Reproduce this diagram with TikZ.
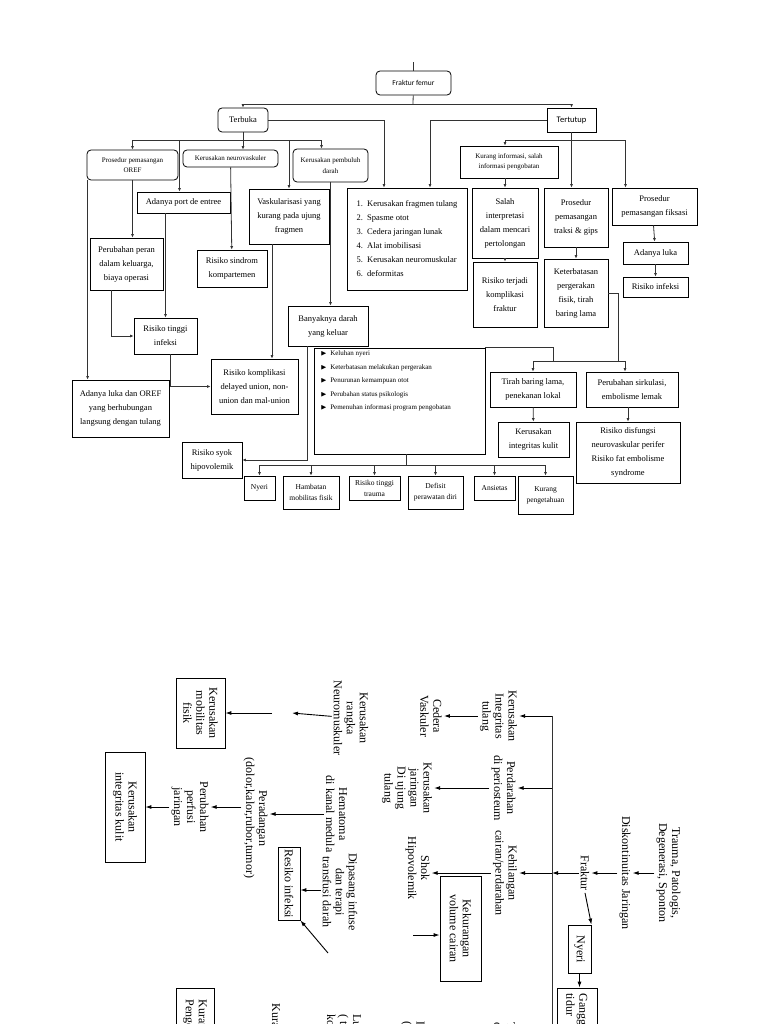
\documentclass[tikz,border=0pt]{standalone}
\usepackage{amssymb}
\usepackage{fontspec}
\setmainfont{Liberation Serif}
\newfontfamily\calibri{Carlito}
\usetikzlibrary{arrows.meta,positioning,calc}

\tikzset{
  box/.style={draw,line width=0.8pt,align=center,inner sep=1pt,font=\fontsize{8.5}{14}\selectfont},
  rbox/.style={box,rounded corners=4pt},
  sm/.style={font=\fontsize{7}{10.5}\selectfont},
  row/.style={font=\fontsize{7.5}{11}\selectfont},
  rtext/.style={rotate=-90,align=center,inner sep=2pt,font=\fontsize{12}{13}\selectfont},
  rbox2/.style={rtext,draw,line width=0.8pt},
  link/.style={line width=0.8pt,black!80},
  blink/.style={line width=0.9pt,->,>={Latex[length=6pt,width=4pt]}}
}

\begin{document}
\begin{tikzpicture}[x=1pt,y=-1pt,>={Latex[length=3.5pt,width=3pt]}]
\clip (0,0) rectangle (768,1024);
\fill[white] (0,0) rectangle (768,1024);

% upper chart
\node[rbox,font=\calibri\fontsize{7.5}{9}\selectfont,minimum width=75,minimum height=24] (fem) at (413.5,83) {Fraktur femur};
\node[rbox,minimum width=50,minimum height=24] (terb) at (243,120) {Terbuka};
\node[box,font=\calibri\fontsize{8.5}{10}\selectfont,minimum width=49,minimum height=24] (tert) at (571.5,120) {Tertutup};

\node[rbox,sm,minimum width=91,minimum height=30] (oref) at (132.5,165) {Prosedur pemasangan\\OREF};
\node[rbox,sm,minimum width=95,minimum height=17] (neuro) at (230.5,158.5) {Kerusakan neurovaskuler};
\node[rbox,sm,minimum width=75,minimum height=33] (pemb) at (330.5,165.5) {Kerusakan pembuluh\\darah};
\node[box,minimum width=93,minimum height=21] (port) at (183.5,202.5) {Adanya port de entree};
\node[box,minimum width=80,minimum height=55] (vask) at (289,216.5) {Vaskularisasi yang\\kurang pada ujung\\fragmen};
\node[box,align=left,minimum width=120,minimum height=102] (list) at (407,239)
  {\begin{tabular}{@{}l@{\ \ }l@{}}
   1. & Kerusakan fragmen tulang\\ 2. & Spasme otot\\ 3. & Cedera jaringan lunak\\
   4. & Alat imobilisasi\\ 5. & Kerusakan neuromuskular\\ 6. & deformitas
   \end{tabular}};
\node[box,minimum width=73,minimum height=52] (peran) at (126.5,264) {Perubahan peran\\dalam keluarga,\\biaya operasi};
\node[box,minimum width=70,minimum height=37] (komp) at (232,268.5) {Risiko sindrom\\kompartemen};
\node[box,minimum width=80,minimum height=40] (darah) at (328,326) {Banyaknya darah\\yang keluar};
\node[box,minimum width=63,minimum height=36] (ting) at (165.5,336) {Risiko tinggi\\infeksi};
\node[box,minimum width=97,minimum height=57] (luka) at (120.5,408.5) {Adanya luka dan OREF\\yang berhubungan\\langsung dengan tulang};
\node[box,minimum width=87,minimum height=55] (delay) at (254.5,386.5) {Risiko komplikasi\\delayed union, non-\\union dan mal-union};
\node[box,inner sep=0pt,minimum width=171,minimum height=106] (bul) at (399.5,401)
  {\parbox[t][100pt][t]{158pt}{\fontsize{7}{13.5}\selectfont
   $\blacktriangleright$\ \ Keluhan nyeri\\
   $\blacktriangleright$\ \ Keterbatasan melakukan pergerakan\\
   $\blacktriangleright$\ \ Penurunan kemampuan otot\\
   $\blacktriangleright$\ \ Perubahan status psikologis\\
   $\blacktriangleright$\ \ Pemenuhan informasi program pengobatan}};
\node[box,minimum width=60,minimum height=36] (syok) at (212,460) {Risiko syok\\hipovolemik};

\node[box,row,minimum width=31,minimum height=24] (nyeri) at (259.5,488) {Nyeri};
\node[box,row,minimum width=56,minimum height=33] (hamb) at (311,492.5) {Hambatan\\mobilitas fisik};
\node[box,row,minimum width=51,minimum height=24] (traum) at (374.5,488) {Risiko tinggi\\trauma};
\node[box,row,minimum width=55,minimum height=33] (def) at (435.5,492.5) {Defisit\\perawatan diri};
\node[box,row,minimum width=41,minimum height=24] (ans) at (494.5,488) {Ansietas};
\node[box,row,minimum width=55,minimum height=38] (kur) at (545.5,495) {Kurang\\pengetahuan};

\node[box,sm,minimum width=98,minimum height=32] (kinfo) at (509,162) {Kurang informasi, salah\\informasi pengobatan};
\node[box,minimum width=66,minimum height=70] (salah) at (505,223) {Salah\\interpretasi\\dalam mencari\\pertolongan};
\node[box,minimum width=64,minimum height=59] (traksi) at (576,217.5) {Prosedur\\pemasangan\\traksi \& gips};
\node[box,minimum width=85,minimum height=37] (fiks) at (654.5,206.5) {Prosedur\\pemasangan fiksasi};
\node[box,minimum width=64,minimum height=65] (rkomp) at (505,294.5) {Risiko terjadi\\komplikasi\\fraktur};
\node[box,minimum width=64,minimum height=68] (keter) at (576,293) {Keterbatasan\\pergerakan\\fisik, tirah\\baring lama};
\node[box,minimum width=65,minimum height=22] (aluka) at (655.5,253) {Adanya luka};
\node[box,minimum width=65,minimum height=20] (rinf) at (655.5,287) {Risiko infeksi};
\node[box,minimum width=86,minimum height=35] (tirah) at (533,389.5) {Tirah baring lama,\\penekanan lokal};
\node[box,minimum width=92,minimum height=35] (sirk) at (632,389.5) {Perubahan sirkulasi,\\embolisme lemak};
\node[box,minimum width=71,minimum height=35] (kulit) at (533.5,439.5) {Kerusakan\\integritas kulit};
\node[box,minimum width=104,minimum height=61] (disf) at (628,452.5) {Risiko disfungsi\\neurovaskular perifer\\Risiko fat embolisme\\syndrome};

\draw[link] (fem.north) -- +(0,-9);
\draw[link] (fem) -- (413,104) coordinate (j1);
\draw[link,->] (j1) -| (terb);
\draw[link,->] (j1) -| (tert);
\draw[link,->] (terb) -| ([xshift=-23]list.north);
\draw[link,->] (tert) -| ([xshift=23]list.north);
\draw[link] (terb) -- (243,140) coordinate (j2);
\draw[link,->] (j2) -| (oref);
\draw[link,->] (j2) -| ([xshift=-4]port.north);
\draw[link,->] (j2) -| (vask);
\draw[link,->] (j2) -| ([xshift=-9]pemb.north);
\draw[link,->] (terb) -- (terb |- neuro.north);
\draw[link,->] ([xshift=1]oref.south west) -- ([xshift=1]oref.south west |- luka.north);
\draw[link,->] (oref) -- (oref |- peran.north);
\draw[link,->] ([xshift=-15]peran.south) |- (ting);
\draw[link,->] (port.south -| ting) -- (ting);
\draw[link,->] (neuro) -- (komp);
\draw[link,->] ([xshift=-17]vask.south) -- ([xshift=-17]vask.south |- delay.north);
\draw[link,->] (pemb) -- (pemb |- darah.north);
\draw[link,->] ([xshift=-21]darah.south) |- (syok);
\draw[link,->] ([xshift=5]ting.south) |- (delay.west);

\draw[link,->] (tert) -- (tert |- traksi.north);
\draw[link] (tert) -- (571.5,140) coordinate (j3);
\draw[link,->] (j3) -| ([xshift=-4]kinfo.north);
\draw[link,->] (j3) -| ([xshift=-29]fiks.north);
\draw[link,->] ([xshift=-4]kinfo.south) -- (salah.north);
\draw[link,->] (salah) -- (rkomp);
\draw[link,->] (traksi) -- (keter);
\draw[link,->] ([xshift=-1]fiks.south) -- (aluka);
\draw[link,->] (aluka) -- (rinf);
\draw[link] (keter.east) -| (618,361) coordinate (j4);
\draw[link] (bul.north east) -| (553,361) coordinate (j5) -- (j4);
\draw[link,->] (j5) -| (tirah);
\draw[link,->] (j4) -| ([xshift=-7]sirk.north);
\draw[link,->] (tirah) -- (kulit);
\draw[link,->] (disf |- sirk.south) -- (disf);
\draw[link] ([xshift=7]bul.south) -- (406.5,465) coordinate (j6);
\foreach \n in {nyeri,hamb,traum,def,ans,kur}
  \draw[link,->] (j6) -| (\n);

% lower chart, turned on its side
\node[rtext] (sebab) at (668.5,873) {Trauma, Patologis,\\Degenerasi, Sponton};
\node[rtext] (disk) at (625,873) {Diskontinuitas Jaringan};
\node[rtext] (frak) at (585,873) {Fraktur};
\coordinate (sp) at (552,716);
\node[rtext] (kit) at (498.5,716) {Kerusakan\\Integritas\\tulang};
\node[rtext] (ced) at (431,716) {Cedera\\Vaskuler};
\node[rtext] (perd) at (503.5,788) {Perdarahan\\di periosteum};
\node[rtext] (kjar) at (407,788) {Kerusakan\\jaringan\\Di ujung\\tulang};
\node[rtext] (keh) at (505,873) {Kehilangan\\cairan/perdarahan};
\node[rtext] (shok) at (417.5,868) {Shok\\Hipovolemik};
\node[rbox2,minimum width=105,minimum height=41] (kvc) at (460.5,928.5) {Kekurangan\\volume cairan};
\node[rbox2,minimum width=48,minimum height=23] (nyeri2) at (579.5,949) {Nyeri};
\node[rbox2,align=left,minimum width=84,minimum height=40] (gang) at (577,1030) {Gangguan pola\\tidur};
\node[rtext,align=left] (tind) at (503.5,1045) {Tindakan\\operasi};
\node[rtext,align=left] (lpen) at (413,1052) {Luka\\(pasang pen)};
\node[rtext,align=left] (lput) at (343,1046) {Luka\\( terputusnya\\kontinuitas)};
\node[rtext,align=left] (kinf2) at (275,1046) {Kurang informasi};
\node[rbox2,align=left,minimum width=84,minimum height=38] (kpeng) at (195,1030) {Kurang\\Pengetahuan};

\node[rtext] (rang) at (351,718) {Kerusakan\\rangka\\Neuromuskuler};
\node[rbox2,minimum width=70,minimum height=49] (kmf) at (200.5,713) {Kerusakan\\mobilitas\\fisik};
\node[rtext] (hema) at (336.5,814) {Hematoma\\di kanal medula};
\node[rtext] (rada) at (255.5,818) {Peradangan\\(dolor,kalor,rubor,tumor)};
\node[rtext] (perf) at (190,807) {Perubahan\\perfusi\\jaringan};
\node[rbox2,minimum width=110,minimum height=40] (kik) at (125,807) {Kerusakan\\integritas kulit};
\node[rtext] (dip) at (340,892) {Dipasang infuse\\dan terapi\\transfusi darah};
\node[rbox2,minimum width=69,minimum height=22] (rinf2) at (289,883.5) {Resiko infeksi};

\draw[link] (sp) -- (552,1030);
\draw[blink] (sebab) -- (disk);
\draw[blink] (disk) -- (frak);
\draw[blink] (frak) -- (sp |- frak);
\draw[blink] (sp |- frak) -- (keh);
\draw[blink] (sp) -- (kit);
\draw[blink] (sp |- perd) -- (perd);
\draw[blink] (kit) -- (ced);
\draw[blink] (perd) -- (kjar);
\draw[blink] (keh) -- (keh -| shok.north);
\draw[blink] (frak.east) -- (nyeri2.north west);
\draw[blink] (nyeri2) -- (nyeri2 |- gang.west);
\draw[blink] (413,935) coordinate (k1) -- (kvc.south |- k1);
\draw[blink] (rang) -- (292,713) coordinate (m1);
\draw[blink] (272,713) coordinate (m2) -- (kmf);
\draw[blink] (hema) -- (rada.north |- hema);
\draw[blink] (rada.south |- perf) -- (perf);
\draw[blink] (perf) -- (kik);
\draw[blink] (dip.south |- 0,890) -- (rinf2.north |- 0,890);
\draw[blink] (328,953) coordinate (d1) -- (rinf2.north east);
\end{tikzpicture}
\end{document}
